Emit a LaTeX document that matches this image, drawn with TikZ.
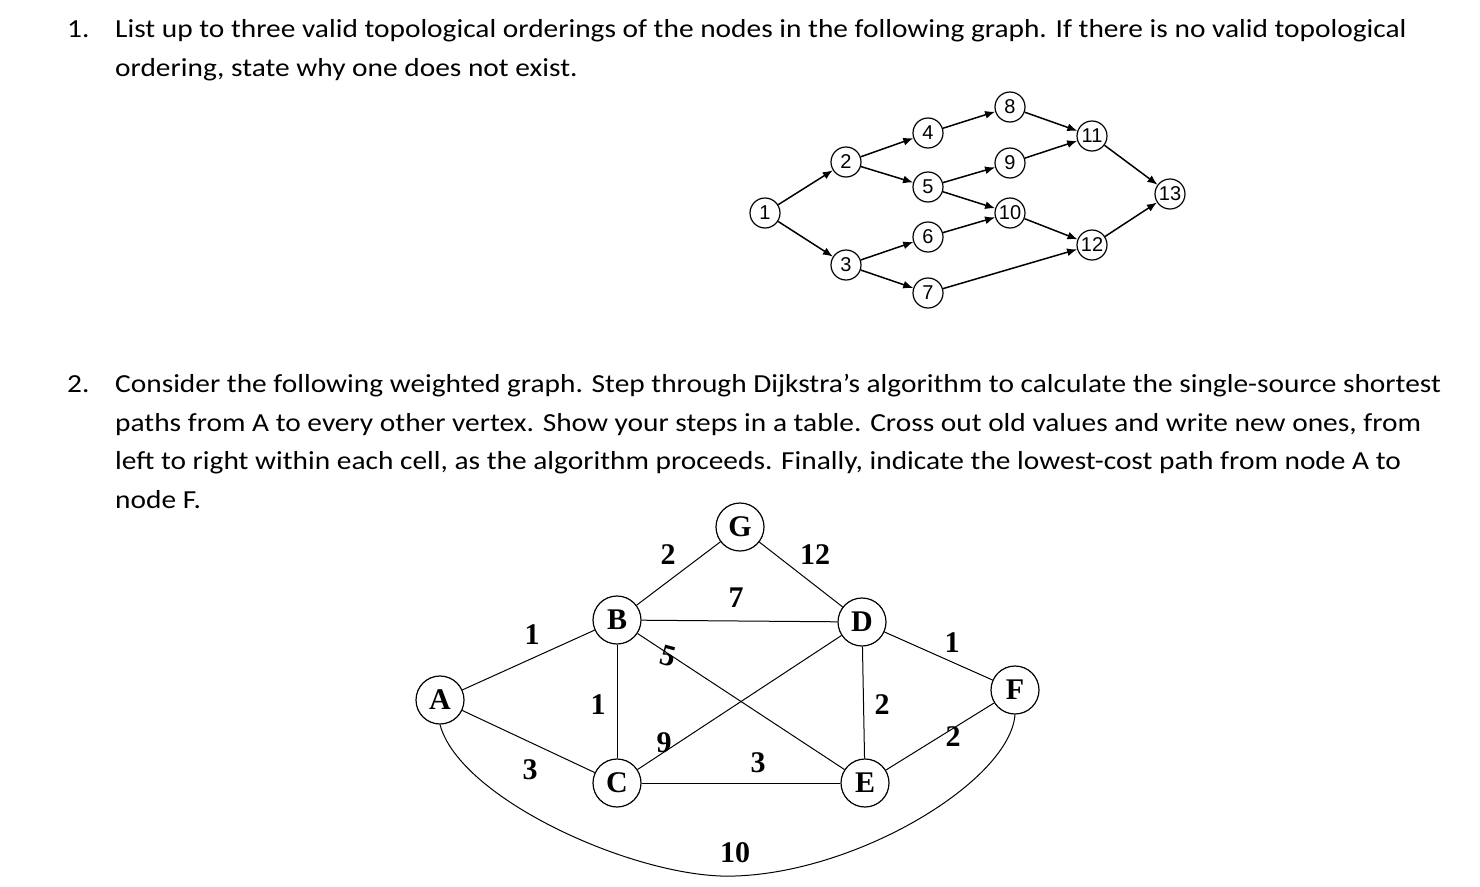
\documentclass[tikz,border=0pt]{standalone}
\usepackage{fontspec}
\setmainfont{Carlito}[FakeStretch=1.13]
\newfontfamily\graphsans{Liberation Sans}
\newfontfamily\graphserif{Liberation Serif}
\usetikzlibrary{arrows.meta}
\begin{document}
\begin{tikzpicture}[x=1pt,y=-1pt,
  txt/.style={anchor=base west,inner sep=0pt,font=\fontsize{26}{30}\selectfont},
  sn/.style={circle,draw,line width=1.2pt,minimum size=30pt,inner sep=0pt,font=\graphsans\fontsize{20}{20}\selectfont},
  sa/.style={-{Latex[length=10pt,width=8pt]},line width=1.5pt},
  bn/.style={circle,draw,line width=1.2pt,minimum size=48pt,inner sep=0pt,font=\graphserif\bfseries\fontsize{30}{30}\selectfont},
  be/.style={line width=1pt},
  wl/.style={inner sep=0pt,font=\graphserif\bfseries\fontsize{30}{30}\selectfont}]
\useasboundingbox (0,0) rectangle (1480,886);
\node[txt] (n1) at (67,37) {1.};
\node[txt] (l1) at (115,37) {List up to three valid topological orderings of the nodes in the following graph. If there is no valid topological};
\node[txt] (l2) at (115,76) {ordering, state why one does not exist.};
\node[txt] (n2) at (67,392) {2.};
\node[txt] (m1) at (115,392) {Consider the following weighted graph. Step through Dijkstra’s algorithm to calculate the single-source shortest};
\node[txt] (m2) at (115,431) {paths from A to every other vertex. Show your steps in a table. Cross out old values and write new ones, from};
\node[txt] (m3) at (115,469) {left to right within each cell, as the algorithm proceeds. Finally, indicate the lowest-cost path from node A to};
\node[txt] (m4) at (115,508) {node F.};
% top graph
\node[sn] (t1) at (765,213) {1};
\node[sn] (t2) at (846,162) {2};
\node[sn] (t3) at (846,265) {3};
\node[sn] (t4) at (928,133) {4};
\node[sn] (t5) at (928,187) {5};
\node[sn] (t6) at (928,237) {6};
\node[sn] (t7) at (928,293) {7};
\node[sn] (t8) at (1010,107) {8};
\node[sn] (t9) at (1010,163) {9};
\node[sn] (t10) at (1010,213) {10};
\node[sn] (t11) at (1092,136) {11};
\node[sn] (t12) at (1092,245) {12};
\node[sn] (t13) at (1170,194) {13};
\foreach \a/\b in {t1/t2,t1/t3,t2/t4,t2/t5,t3/t6,t3/t7,t4/t8,t5/t9,t5/t10,t6/t10,t7/t12,t8/t11,t9/t11,t10/t12,t11/t13,t12/t13}
  \draw[sa] (\a) -- (\b);
% bottom graph
\node[bn] (A) at (440,700) {A};
\node[bn] (B) at (617,620) {B};
\node[bn] (G) at (740,527) {G};
\node[bn] (D) at (862,622) {D};
\node[bn] (F) at (1015,690) {F};
\node[bn] (C) at (617,783) {C};
\node[bn] (E) at (865,783) {E};
\foreach \a/\b in {A/B,A/C,B/G,G/D,B/D,B/C,B/E,C/D,C/E,D/E,D/F,E/F}
  \draw[be] (\a) -- (\b);
\draw[be] (A.south) .. controls (460,800) and (640,880) .. (735,876) .. controls (860,872) and (1010,780) .. (F.south);
\node[wl] (w1) at (668,555) {2};
\node[wl] (w2) at (815,555) {12};
\node[wl] (w3) at (736,598) {7};
\node[wl] (w4) at (532,635) {1};
\node[wl,rotate=-15] (w5) at (668,656) {5};
\node[wl] (w6) at (598,705) {1};
\node[wl] (w7) at (952,643) {1};
\node[wl] (w8) at (882,705) {2};
\node[wl] (w9) at (664,743) {9};
\node[wl] (w10) at (530,770) {3};
\node[wl] (w11) at (758,763) {3};
\node[wl] (w12) at (953,737) {2};
\node[wl] (w13) at (735,853) {10};
\end{tikzpicture}
\end{document}
